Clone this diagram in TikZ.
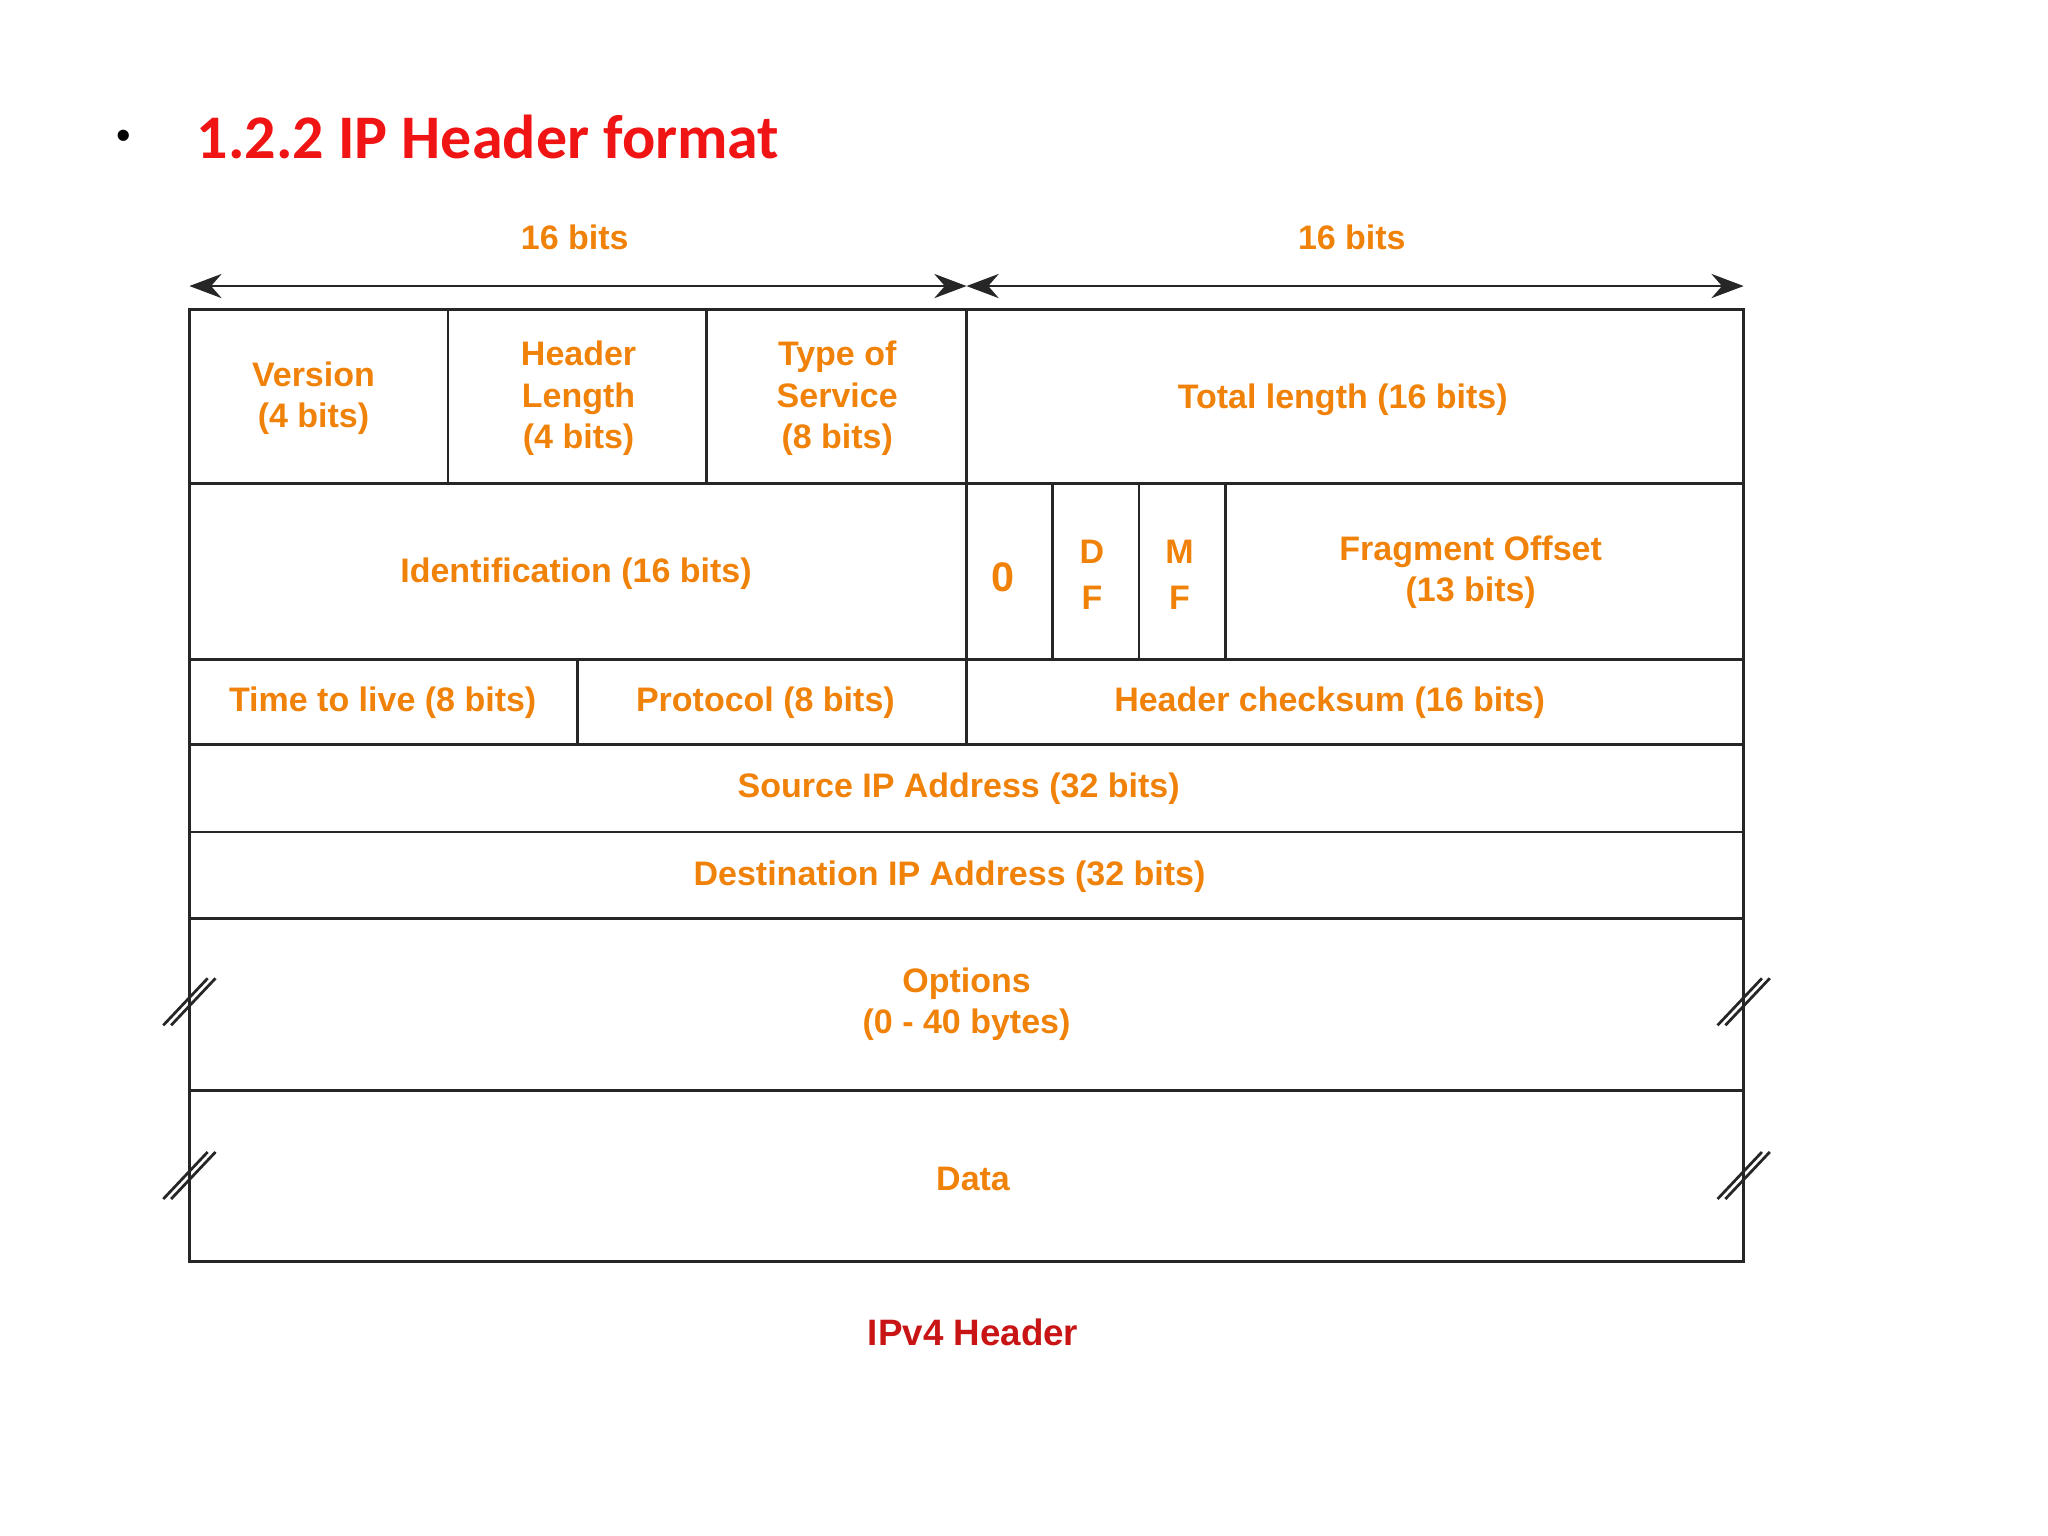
\documentclass[tikz,border=0pt]{standalone}
\usepackage{fontspec}
\setmainfont{Liberation Sans}
\newfontfamily\titlefont{Carlito}
\usetikzlibrary{arrows.meta}
\definecolor{lab}{RGB}{240,130,10}
\definecolor{ttl}{RGB}{240,20,20}
\definecolor{cap}{RGB}{200,20,20}
\begin{document}
\begin{tikzpicture}[x=0.01cm,y=-0.01cm,
  lbl/.style={text=lab,font=\fontsize{7.4}{9}\selectfont\bfseries,align=center,inner sep=0},
  ln/.style={line width=0.6pt,black!85},
  brk/.style={line width=0.6pt,black!85}]
\useasboundingbox (0,0) rectangle (1568,1176);
\fill[white] (0,0) rectangle (1568,1176);
\node[anchor=center,font=\fontsize{9}{9}\selectfont] (bul) at (95,107) {•};
\node[anchor=west,text=ttl,font=\titlefont\fontsize{13.5}{14}\selectfont\bfseries,inner sep=0] (title) at (150,105) {1.2.2 IP Header format};
% arrows
\coordinate (a0) at (145,219); \coordinate (a1) at (740,219); \coordinate (a2) at (1335,219);
\draw[ln,{Stealth[length=7pt]}-{Stealth[length=7pt]}] (a0) -- (a1);
\draw[ln,{Stealth[length=7pt]}-{Stealth[length=7pt]}] (a1) -- (a2);
\node[lbl] (b1) at (440,182) {16 bits};
\node[lbl] (b2) at (1035,182) {16 bits};
% grid
\draw[ln] (145,237) rectangle (1335,966);
\foreach \y in {370,505,570,637,703,835} \draw[ln] (145,\y) -- (1335,\y);
\foreach \x in {343,541,740} \draw[ln] (\x,237) -- (\x,370);
\foreach \x in {740,806,872,938} \draw[ln] (\x,370) -- (\x,505);
\foreach \x in {442,740} \draw[ln] (\x,505) -- (\x,570);
% break marks
\foreach \x in {145,1335} \foreach \y in {767,900} {
  \draw[brk] (\x-20,\y+18) -- (\x+14,\y-18);
  \draw[brk] (\x-14,\y+18) -- (\x+20,\y-18);
}
\node[lbl] (ver) at (240,305) {Version\\(4 bits)};
\node[lbl] (hl) at (443,305) {Header\\Length\\(4 bits)};
\node[lbl] (tos) at (641,305) {Type of\\Service\\(8 bits)};
\node[lbl] (tl) at (1028,306) {Total length (16 bits)};
\node[lbl] (id) at (441,439) {Identification (16 bits)};
\node[lbl,font=\fontsize{9}{9}\selectfont\bfseries] (z) at (768,442) {0};
\node[lbl] (df) at (836,440) {D\\[1pt]F};
\node[lbl] (mf) at (903,440) {M\\[1pt]F};
\node[lbl] (fo) at (1126,438) {Fragment Offset\\(13 bits)};
\node[lbl] (ttl2) at (293,538) {Time to live (8 bits)};
\node[lbl] (pr) at (586,538) {Protocol (8 bits)};
\node[lbl] (hc) at (1018,538) {Header checksum (16 bits)};
\node[lbl] (src) at (734,604) {Source IP Address (32 bits)};
\node[lbl] (dst) at (727,671) {Destination IP Address (32 bits)};
\node[lbl] (opt) at (740,769) {Options\\(0 - 40 bytes)};
\node[lbl] (data) at (745,903) {Data};
\node[lbl,text=cap,font=\fontsize{8}{9}\selectfont\bfseries] (capn) at (745,1020) {IPv4 Header};
\end{tikzpicture}
\end{document}
